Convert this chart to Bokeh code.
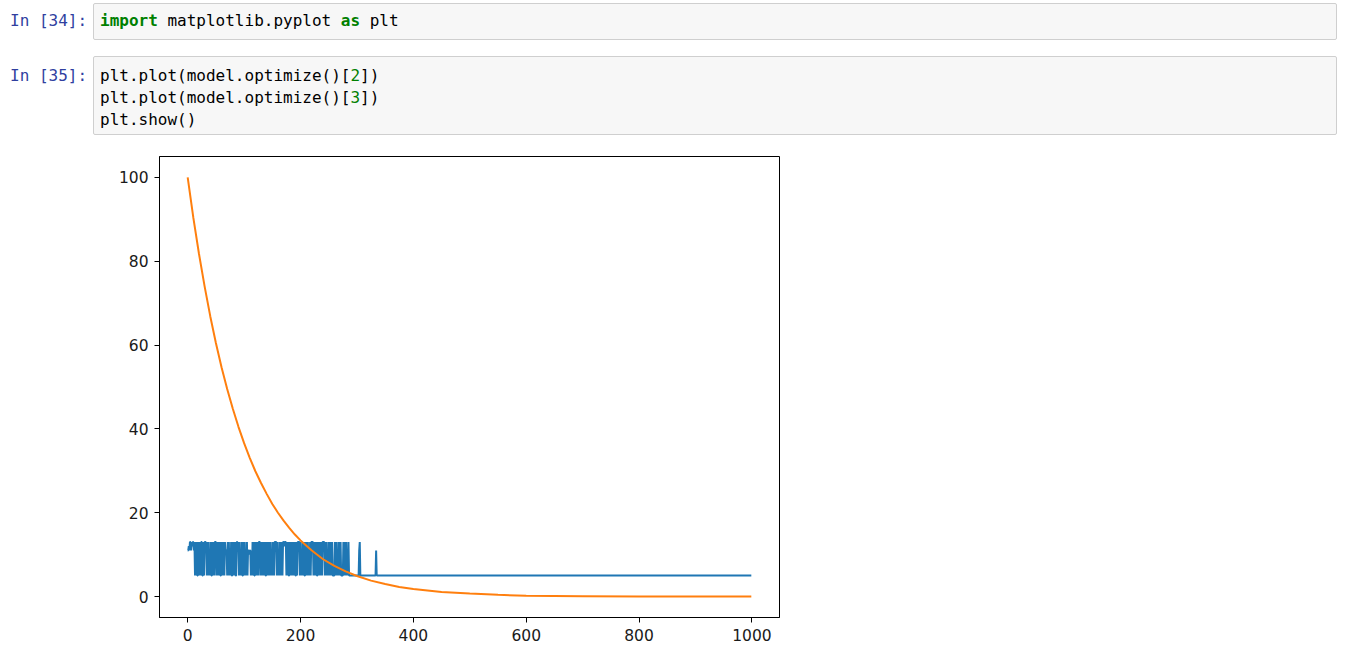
from bokeh.plotting import figure
from bokeh.layouts import column
from bokeh.models import Div, FixedTicker, Range1d
from bokeh.embed import file_html
from bokeh.resources import INLINE

# ---------------- data ----------------
# series 1 (blue): value per iteration for the first part, then a constant tail
blue_head = [
    11, 11, 12, 11, 13, 13, 11, 13, 12, 13, 13, 11, 13,
    5, 13, 5, 13, 5, 5, 13, 11, 5, 13, 5, 13, 13, 5, 5, 13, 5, 13,
    13, 13, 12,
    5, 13, 5, 13, 5, 11, 5, 13, 5, 5, 13, 5, 13, 5,
    13, 13, 13,
    5, 13, 5, 13, 11, 5, 13, 5, 5, 13, 5, 13, 5, 13, 5, 13,
    11, 11, 11,
    5, 13, 5, 13, 5, 11, 5, 13, 5, 5, 13, 5, 13, 5, 13, 5, 5, 13,
    13, 12, 13,
    5, 13, 5, 11, 5, 13, 5, 5, 13, 5, 13, 5, 11, 5, 13, 5,
    11, 11, 10, 11, 11,
    5, 11, 5, 13, 5, 13, 5, 5, 13, 5, 13, 5, 13, 5,
    13, 13, 13,
    5, 13, 5, 13, 5, 13, 11, 5, 13, 5, 5, 13, 5, 13, 5, 13, 5, 13, 5, 11, 5, 13, 5, 13, 5,
    13, 13, 13,
    13, 5, 13, 5, 11, 5, 13, 5, 13, 5, 13, 5,
    13, 13, 12, 13, 13, 13,
    5, 13, 5, 13, 5, 5, 13, 5, 13, 11, 5, 13, 5, 13, 5, 13, 5, 5, 13, 5, 13,
    13, 13, 13,
    5, 13, 5, 11, 5, 13, 5, 13, 5, 5, 13, 5, 13, 5, 13, 5, 11, 5, 13, 5, 13,
    13, 13, 13,
    5, 13, 5, 13, 5, 13, 5, 5, 13, 5, 13, 5, 13, 5, 13, 5, 13,
    13, 13, 13,
    5, 13, 5, 13, 5, 11, 5, 13, 5, 13, 5, 13, 5, 13, 5,
    5, 5, 5,
    13, 5, 13, 5, 11, 5, 13, 5, 13, 5, 13, 5,
    5, 5, 5,
    13, 5, 13, 11, 5, 13, 5, 11, 5, 13, 5,
    5, 5, 5, 5, 5, 5, 5, 5, 5, 5, 5, 5, 5, 5, 5, 5, 5, 11,
    13, 5,
    5, 5, 5, 5, 5, 5, 5, 5, 5, 5, 5, 5, 5, 5, 5, 5, 5, 5, 5, 5, 5, 5, 5, 5, 5, 5, 5,
    11, 5,
    5, 5, 5, 5, 5, 5, 5, 5,
]
blue_tail_value = 5
n_points = 1000

# series 2 (orange): samples
orange_x = [0, 10, 20, 30, 40, 50, 60, 70, 80, 90, 100, 110, 120, 130, 140, 150,
            160, 170, 180, 190, 200, 220, 240, 260, 280, 300, 325, 350, 375, 400,
            450, 500, 550, 600, 700, 800, 900, 999]
orange_y = [100.0, 90.4, 81.8, 74.0, 66.9, 60.5, 54.7, 49.5, 44.8, 40.5, 36.6, 33.1,
            29.9, 27.1, 24.5, 22.1, 20.0, 18.1, 16.4, 14.8, 13.4, 11.0, 8.9, 7.3,
            6.0, 4.9, 3.8, 3.0, 2.3, 1.8, 1.1, 0.7, 0.4, 0.2, 0.1, 0.0, 0.0, 0.0]

x_ticks = [0, 200, 400, 600, 800, 1000]
y_ticks = [0, 20, 40, 60, 80, 100]

blue_y = blue_head + [blue_tail_value] * (n_points - len(blue_head))
blue_x = list(range(n_points))

# ---------------- notebook cells ----------------
mono = "'DejaVu Sans Mono', monospace"
box = ("position:absolute;left:88px;width:1244px;box-sizing:border-box;"
       "background:#f7f7f7;border:1px solid #cfcfcf;border-radius:2px;"
       "padding-left:6px;font-family:%s;font-size:16px;line-height:22px;"
       "color:#000;white-space:pre;" % mono)
prompt = ("position:absolute;left:5px;font-family:%s;font-size:16px;"
          "line-height:22px;color:#303F9F;white-space:pre;" % mono)
kw = "color:#008000;font-weight:bold;"
num = "color:#008000;"
plain = "color:#000000;"


def sp(style, txt):
    return f'<span style="{style}">{txt}</span>'


def line(parts):
    return '<div style="height:22px;">' + "".join(sp(s, t) for s, t in parts) + '</div>'


html = (
    '<div style="position:relative;width:1330px;height:138px;">'
    f'<div style="{prompt}top:5px;">{sp(plain + "color:#303F9F;", "In [34]:")}</div>'
    f'<div style="{box}top:-2px;height:37px;padding-top:6px;">'
    + line([(kw, "import"), (plain, " matplotlib.pyplot "), (kw, "as"), (plain, " plt")])
    + '</div>'
    f'<div style="{prompt}top:60px;">{sp(plain + "color:#303F9F;", "In [35]:")}</div>'
    f'<div style="{box}top:51px;height:79px;padding-top:8px;">'
    + line([(plain, "plt.plot(model.optimize()["), (num, "2"), (plain, "])")])
    + line([(plain, "plt.plot(model.optimize()["), (num, "3"), (plain, "])")])
    + line([(plain, "plt.show()")])
    + '</div>'
    '</div>'
)
cells = Div(text=html, width=1330, height=138)

# ---------------- chart ----------------
p = figure(output_backend="svg", toolbar_location=None,
           frame_width=620, frame_height=461,
           min_border_left=159, min_border_right=10,
           min_border_top=8, min_border_bottom=40,
           x_range=Range1d(-49.95, 1048.95), y_range=Range1d(-5, 105),
           background_fill_color="white", border_fill_color="white")
p.grid.visible = False
p.outline_line_color = "#000000"
p.outline_line_width = 1
p.outline_line_alpha = 1

for ax, ticks in ((p.xaxis, x_ticks), (p.yaxis, y_ticks)):
    ax.ticker = FixedTicker(ticks=ticks)
    ax.axis_line_color = "#000000"
    ax.axis_line_width = 1
    ax.major_tick_line_color = "#000000"
    ax.major_tick_line_width = 1
    ax.major_tick_out = 5
    ax.major_tick_in = 0
    ax.minor_tick_out = 0
    ax.minor_tick_in = 0
    ax.major_label_text_font = "DejaVu Sans"
    ax.major_label_text_font_size = "15.5px"
    ax.major_label_text_color = "#1a1a1a"
    ax.major_label_standoff = 6

p.line(blue_x, blue_y, line_color="#1f77b4", line_width=2)
p.line(orange_x, orange_y, line_color="#ff7f0e", line_width=2)

layout = column(cells, p, spacing=0)
open("out.html", "w").write(file_html(layout, INLINE))
